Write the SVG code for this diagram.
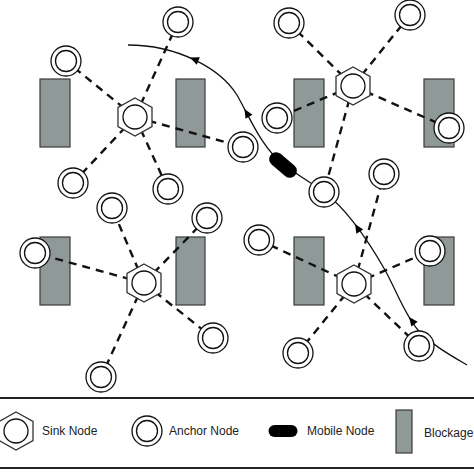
<svg xmlns="http://www.w3.org/2000/svg" width="474" height="474" viewBox="0 0 474 474">
<style>
.blk{fill:#8f9998;stroke:#3a3a3a;stroke-width:1.2}
.con line{stroke:#111;stroke-width:2.4;stroke-dasharray:8 6;fill:none}
.ring{fill:#fff;stroke:#111;stroke-width:1.3}
.hex{fill:#fff;stroke:#333;stroke-width:1.3}
.mob{fill:#000}
.arr{fill:#000}
.lbl{font-family:"Liberation Sans",Arial,sans-serif;font-size:12px;fill:#222}
</style>
<defs>
<g id="anc"><circle class="ring" r="15"/><circle class="ring" r="10.5"/></g>
<g id="snk"><polygon class="hex" points="0,-19 17,-9.5 17,9.5 0,19 -17,9.5 -17,-9.5"/><circle class="ring" r="12"/></g>
<polygon id="ah" points="0,0 -9,-4 -9,4"/>
</defs>
<rect width="474" height="474" fill="#fff"/>
<g id="blockages">
<rect class="blk" x="40" y="79" width="30" height="68"/>
<rect class="blk" x="176" y="79" width="29" height="68"/>
<rect class="blk" x="294" y="79" width="30" height="68"/>
<rect class="blk" x="424" y="79" width="30" height="68"/>
<rect class="blk" x="40" y="237" width="30" height="68"/>
<rect class="blk" x="176" y="237" width="29" height="68"/>
<rect class="blk" x="294" y="237" width="30" height="68"/>
<rect class="blk" x="424" y="237" width="30" height="68"/>
</g>
<g id="connectors" class="con">
<line x1="135" y1="117" x2="66" y2="61"/>
<line x1="135" y1="117" x2="178" y2="22"/>
<line x1="135" y1="117" x2="243" y2="147"/>
<line x1="135" y1="117" x2="73" y2="183"/>
<line x1="135" y1="117" x2="168" y2="189"/>
<line x1="353" y1="86" x2="289" y2="23"/>
<line x1="353" y1="86" x2="410" y2="15"/>
<line x1="353" y1="86" x2="277" y2="118"/>
<line x1="353" y1="86" x2="449" y2="128"/>
<line x1="353" y1="86" x2="324" y2="192"/>
<line x1="144" y1="283" x2="112" y2="208"/>
<line x1="144" y1="283" x2="207" y2="218"/>
<line x1="144" y1="283" x2="35" y2="253"/>
<line x1="144" y1="283" x2="213" y2="338"/>
<line x1="144" y1="283" x2="101" y2="377"/>
<line x1="354" y1="284" x2="384" y2="174"/>
<line x1="354" y1="284" x2="259" y2="240"/>
<line x1="354" y1="284" x2="430" y2="251"/>
<line x1="354" y1="284" x2="298" y2="353"/>
<line x1="354" y1="284" x2="419" y2="346"/>
</g>
<g id="mobile-path">
<path d="M128,45 C177,45 220,68 237,95 C250,118 262,148 283,164 C300,177 315,185 324,192 C345,208 365,235 385,270 C397,292 405,315 418,330 C432,345 450,355 467,365" fill="none" stroke="#111" stroke-width="1.3"/>
<use href="#ah" class="arr" transform="translate(190,57.5) rotate(203)"/>
<use href="#ah" class="arr" transform="translate(244.5,109) rotate(240)"/>
<use href="#ah" class="arr" transform="translate(355,224) rotate(238)"/>
<use href="#ah" class="arr" transform="translate(409,317) rotate(232)"/>
</g>
<g id="anchors">
<use href="#anc" x="178" y="22"/>
<use href="#anc" x="66" y="61"/>
<use href="#anc" x="243" y="147"/>
<use href="#anc" x="73" y="183"/>
<use href="#anc" x="168" y="189"/>
<use href="#anc" x="289" y="23"/>
<use href="#anc" x="410" y="15"/>
<use href="#anc" x="277" y="118"/>
<use href="#anc" x="449" y="128"/>
<use href="#anc" x="384" y="174"/>
<use href="#anc" x="324" y="192"/>
<use href="#anc" x="112" y="208"/>
<use href="#anc" x="207" y="218"/>
<use href="#anc" x="35" y="253"/>
<use href="#anc" x="213" y="338"/>
<use href="#anc" x="101" y="377"/>
<use href="#anc" x="259" y="240"/>
<use href="#anc" x="430" y="251"/>
<use href="#anc" x="298" y="353"/>
<use href="#anc" x="419" y="346"/>
</g>
<g id="sinks">
<use id="sink1" href="#snk" x="135" y="117"/>
<use id="sink2" href="#snk" x="353" y="86"/>
<use id="sink3" href="#snk" x="144" y="283"/>
<use id="sink4" href="#snk" x="354" y="284"/>
</g>
<g id="mobile-node">
<rect class="mob" x="267" y="158" width="32" height="14" rx="7" transform="rotate(40 283 165)"/>
</g>
<g id="legend">
<line x1="0" y1="398" x2="474" y2="398" stroke="#222" stroke-width="1.8"/>
<line x1="0" y1="468" x2="474" y2="468" stroke="#222" stroke-width="1.8"/>
<use href="#snk" x="16" y="431"/>
<text class="lbl" x="42" y="435">Sink Node</text>
<use href="#anc" x="147" y="431"/>
<text class="lbl" x="169" y="435">Anchor Node</text>
<rect class="mob" x="268.5" y="425" width="29" height="12" rx="6"/>
<text class="lbl" x="307" y="435">Mobile Node</text>
<rect class="blk" x="396" y="410" width="16" height="43"/>
<text class="lbl" x="424" y="437">Blockage</text>
</g>
</svg>
